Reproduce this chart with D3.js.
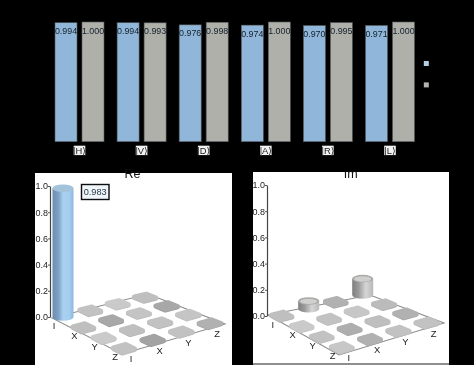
<!DOCTYPE html>
<html lang="en">

<head>
    <meta charset="UTF-8">
    <title>Fidelity and process matrix</title>
    <script src="https://cdn.jsdelivr.net/npm/d3@7"></script>
    <style>
        html, body { margin: 0; padding: 0; background: #000; }
        svg { display: block; }
        text { font-family: "Liberation Sans", "DejaVu Sans", sans-serif; }
    </style>
</head>

<body>
    <script>
        var states = ["|H⟩", "|V⟩", "|D⟩", "|A⟩", "|R⟩", "|L⟩"];
        var blueValues = [0.994, 0.994, 0.976, 0.974, 0.970, 0.971];
        var grayValues = [1.000, 0.993, 0.998, 1.000, 0.995, 1.000];
        var paulis = ["I", "X", "Y", "Z"];
        var zTicks = [0, 0.2, 0.4, 0.6, 0.8, 1.0];
        var reMatrix = [
            [0.983, 0.007, 0.012, 0.005],
            [0.005, -0.011, 0.008, -0.011],
            [0.012, 0.005, 0.007, 0.009],
            [0.007, -0.014, 0.007, -0.005]
        ];
        var imMatrix = [
            [0.005, 0.060, -0.005, 0.125],
            [0.012, 0.007, 0.010, 0.002],
            [0.007, -0.007, 0.005, -0.005],
            [0.010, -0.005, 0.007, 0.007]
        ];
        var fidelityLabel = "0.983";

        var width = 474, height = 365;

        var svg = d3.select("body").append("svg")
            .attr("width", width)
            .attr("height", height);

        var defs = svg.append("defs");
        defs.append("filter").attr("id", "soft")
            .attr("x", 0).attr("y", 0).attr("width", 1).attr("height", 1)
            .append("feGaussianBlur").attr("stdDeviation", 0.4);

        function gradient(id, stops) {
            var g = defs.append("linearGradient").attr("id", id);
            stops.forEach(function (s) {
                g.append("stop").attr("offset", s[0]).attr("stop-color", s[1]);
            });
        }
        gradient("blueSide", [[0, "#6c8cae"], [0.3, "#7fa3c8"], [0.5, "#a9d0f0"], [0.8, "#a4cdef"], [1, "#8db7dc"]]);
        gradient("graySide", [[0, "#7f7f7f"], [0.3, "#9a9a9a"], [0.65, "#d6d6d6"], [1, "#b8b8b8"]]);

        var root = svg.append("g").attr("filter", "url(#soft)");
        root.append("rect").attr("width", width).attr("height", height).attr("fill", "#000");

        // top bars
        var x0 = d3.scaleBand().domain(states).range([55, 414.5]).paddingInner(0.211);
        var x1 = d3.scaleBand().domain([0, 1]).range([0, x0.bandwidth()]).paddingInner(0.185);
        var y = d3.scaleLinear().domain([0, 1]).range([141.7, 22]);
        var barColors = ["#90b7d9", "#aeb0a9"];

        [blueValues, grayValues].forEach(function (values, s) {
            var g = root.append("g");
            g.selectAll("rect").data(values).join("rect")
                .attr("x", function (d, i) { return x0(states[i]) + x1(s); })
                .attr("y", function (d) { return y(d); })
                .attr("width", x1.bandwidth())
                .attr("height", function (d) { return y(0) - y(d); })
                .attr("fill", barColors[s])
                .attr("stroke", "#55595c")
                .attr("stroke-width", 0.6);
            g.selectAll("text").data(values).join("text")
                .attr("x", function (d, i) { return x0(states[i]) + x1(s) + x1.bandwidth() / 2; })
                .attr("y", function (d) { return y(d) + 11.5; })
                .attr("text-anchor", "middle")
                .attr("font-size", 8.9)
                .attr("fill", "#14202c")
                .text(function (d) { return d.toFixed(3); });
        });

        var xAxis = root.append("g")
            .attr("transform", "translate(0,141.7)")
            .call(d3.axisBottom(x0).tickSize(0).tickPadding(6));
        xAxis.select(".domain").remove();
        xAxis.selectAll(".tick").insert("rect", "text")
            .attr("x", -5.8).attr("y", 4).attr("width", 11.6).attr("height", 9.4)
            .attr("fill", "#f2f2f2");
        xAxis.selectAll("text")
            .attr("font-size", 9.4)
            .attr("fill", "#222");

        // legend squares
        root.selectAll("rect.key").data(barColors).join("rect")
            .attr("class", "key")
            .attr("x", 423.8)
            .attr("y", function (d, i) { return 61 + i * 21.4; })
            .attr("width", 5).attr("height", 5)
            .attr("fill", function (d, i) { return ["#b6cee2", "#b4b4b0"][i]; });

        // lower panels
        var tileColor = d3.scaleLinear().domain([-0.03, 0.03]).range(["#8c8c8c", "#e4e4e4"]).clamp(true);

        function drawPanel(p) {
            var g = root.append("g");
            g.append("rect")
                .attr("x", p.box[0]).attr("y", p.box[1])
                .attr("width", p.box[2] - p.box[0]).attr("height", p.box[3] - p.box[1])
                .attr("fill", "#fff");

            g.append("text")
                .attr("x", p.titleX).attr("y", 178)
                .attr("text-anchor", "middle")
                .attr("font-size", 12.5)
                .attr("fill", "#111")
                .text(p.title);

            // index -> floor position, bilinear between the four outer cells
            var uScale = d3.scaleLinear().domain([0, 3]).range([0, 1]);
            function floor(r, c) {
                var u = uScale(r), v = uScale(c), a = p.cells;
                return [
                    (1 - u) * ((1 - v) * a[0][0] + v * a[1][0]) + u * ((1 - v) * a[2][0] + v * a[3][0]),
                    (1 - u) * ((1 - v) * a[0][1] + v * a[1][1]) + u * ((1 - v) * a[2][1] + v * a[3][1])
                ];
            }

            g.append("path")
                .attr("d", d3.line()([p.floor[0], p.floor[1], p.floor[2], p.floor[3]]) + "Z")
                .attr("fill", "#fff")
                .attr("stroke", "#8a8d8a")
                .attr("stroke-width", 1.1);

            var z = d3.scaleLinear().domain([0, 1]).range([p.z0, p.z1]);
            var zAxis = g.append("g")
                .attr("transform", "translate(" + p.axisX + ",0)")
                .call(d3.axisLeft(z).tickValues(zTicks).tickFormat(d3.format(".1f")).tickSize(2).tickPadding(0).tickSizeOuter(0));
            zAxis.select(".domain").attr("stroke", "#444").attr("stroke-width", 1.2);
            zAxis.selectAll(".tick line").attr("stroke", "#555");
            zAxis.selectAll("text").attr("font-size", 9).attr("fill", "#222");

            // flat tiles first
            var cells = [];
            p.matrix.forEach(function (row, r) {
                row.forEach(function (d, c) { cells.push({ r: r, c: c, v: d }); });
            });
            var tiles = cells.filter(function (d) { return Math.abs(d.v) < 0.03; });
            var f = 0.22;
            function tilePath(d) {
                return d3.line()([
                    floor(d.r - f, d.c - f), floor(d.r + f, d.c - f),
                    floor(d.r + f, d.c + f), floor(d.r - f, d.c + f)
                ]) + "Z";
            }
            g.selectAll("path.edge").data(tiles).join("path")
                .attr("class", "edge")
                .attr("d", tilePath)
                .attr("transform", "translate(0,0.8)")
                .attr("fill", function (d) { return d3.color(tileColor(d.v)).darker(0.15); })
                .attr("stroke", function (d) { return d3.color(tileColor(d.v)).darker(0.15); })
                .attr("stroke-width", 4.6)
                .attr("stroke-linejoin", "round");
            g.selectAll("path.tile").data(tiles).join("path")
                .attr("class", "tile")
                .attr("d", tilePath)
                .attr("fill", function (d) { return tileColor(d.v); })
                .attr("stroke", function (d) { return tileColor(d.v); })
                .attr("stroke-width", 4.6)
                .attr("stroke-linejoin", "round");

            // raised columns
            var rx = 10.5, ry = 3.8;
            cells.filter(function (d) { return Math.abs(d.v) >= 0.03; }).forEach(function (d) {
                var b = floor(d.r, d.c);
                var top = b[1] - (z(0) - z(d.v));
                var tall = d.v > 0.5;
                g.append("path")
                    .attr("d", "M" + (b[0] - rx) + "," + top +
                        "V" + b[1] +
                        "A" + rx + "," + ry + " 0 0 0 " + (b[0] + rx) + "," + b[1] +
                        "V" + top + "Z")
                    .attr("fill", tall ? "url(#blueSide)" : "url(#graySide)");
                g.append("ellipse")
                    .attr("cx", b[0]).attr("cy", top)
                    .attr("rx", rx).attr("ry", ry)
                    .attr("fill", tall ? "#a3c3db" : "#a9aaa8");
                if (!tall) {
                    g.append("ellipse")
                        .attr("cx", b[0]).attr("cy", top + 0.4)
                        .attr("rx", rx - 2).attr("ry", ry - 1.1)
                        .attr("fill", "#cfcfcd");
                }
            });

            // I X Y Z along both front edges
            g.selectAll("text.row").data(paulis).join("text")
                .attr("class", "row")
                .attr("x", function (d, i) { return floor(i, 0)[0] - 9; })
                .attr("y", function (d, i) { return floor(i, 0)[1] + 12; })
                .attr("text-anchor", "middle")
                .attr("font-size", 9.4).attr("fill", "#222")
                .text(function (d) { return d; });
            g.selectAll("text.col").data(paulis).join("text")
                .attr("class", "col")
                .attr("x", function (d, i) { return floor(3, i)[0] + 7; })
                .attr("y", function (d, i) { return floor(3, i)[1] + 14; })
                .attr("text-anchor", "middle")
                .attr("font-size", 9.4).attr("fill", "#222")
                .text(function (d) { return d; });
        }

        drawPanel({
            title: "Re", titleX: 132.5, matrix: reMatrix,
            box: [35, 173, 232, 365],
            axisX: 50, z0: 317, z1: 186,
            cells: [[63, 317], [145, 297.3], [124, 348.3], [210, 323.3]],
            floor: [[52, 318], [148, 294], [225, 324], [122, 354]]
        });
        drawPanel({
            title: "Im", titleX: 350.7, matrix: imMatrix,
            box: [253, 172, 449, 363],
            axisX: 267, z0: 316, z1: 185,
            cells: [[281.7, 315.7], [362.7, 295], [341.7, 347.3], [426.7, 322.7]],
            floor: [[268, 315], [370, 295], [444, 323], [339, 355]]
        });

        // strip under the right panel
        root.append("rect")
            .attr("x", 253).attr("y", 363).attr("width", 196).attr("height", 2)
            .attr("fill", "#8f8f8f");

        // fidelity box
        root.append("rect")
            .attr("x", 81.5).attr("y", 184.5).attr("width", 27.5).attr("height", 15)
            .attr("fill", "#eef6fa").attr("stroke", "#0a0a0a").attr("stroke-width", 1.4);
        root.append("text")
            .attr("x", 95.2).attr("y", 195.4)
            .attr("text-anchor", "middle")
            .attr("font-size", 9.2).attr("fill", "#2b3a48")
            .text(fidelityLabel);
    </script>
</body>

</html>
